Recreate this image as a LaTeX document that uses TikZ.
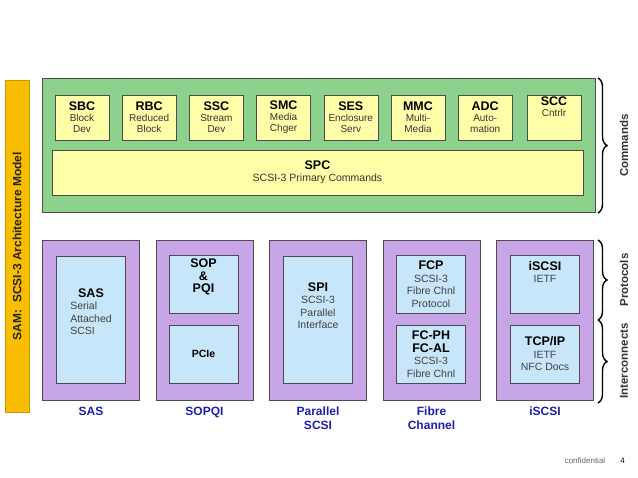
\documentclass[tikz,border=0pt]{standalone}
\usepackage{fontspec}
\setmainfont{Liberation Sans}
\usetikzlibrary{positioning,decorations.pathreplacing}
\definecolor{cmdgreen}{RGB}{140,210,140}
\definecolor{cmdyellow}{RGB}{255,255,170}
\definecolor{busviolet}{RGB}{200,165,230}
\definecolor{protblue}{RGB}{200,230,250}
\definecolor{samorange}{RGB}{250,190,0}
\definecolor{labblue}{RGB}{30,30,170}

\tikzset{
  box/.style={draw=black!70, line width=0.6pt, inner sep=0pt, align=center},
  cmd/.style={box, fill=cmdyellow, minimum width=54pt, minimum height=45pt, font=\fontsize{10}{11}\selectfont, text=black!80},
  bus/.style={box, fill=busviolet, minimum width=97pt, minimum height=160pt},
  prot/.style={box, fill=protblue, minimum width=69pt, font=\fontsize{10.5}{12.5}\selectfont, text=black!75},
  buslabel/.style={align=center, text=labblue, font=\bfseries\fontsize{12}{14}\selectfont},
  brace/.style={decorate, decoration={brace, amplitude=9pt}, line width=1.4pt},
  bracelabel/.style={rotate=90, font=\bfseries\fontsize{11.5}{12}\selectfont, text=black!80}
}
\newcommand{\hd}[1]{{\bfseries\fontsize{12.5}{13.5}\selectfont\color{black} #1}}

\begin{document}
\begin{tikzpicture}[x=1pt, y=-1pt]
\useasboundingbox (0,0) rectangle (638,478);

% architecture model bar
\node [box, fill=samorange, minimum width=24pt, minimum height=332pt, draw=samorange!80!black] (sam) at (17,246) {};
\node [rotate=90, font=\bfseries\fontsize{12}{13}\selectfont, text=black!85] at (sam.center) {SAM:\ \ SCSI-3 Architecture Model};

% command sets
\node [box, fill=cmdgreen, minimum width=553pt, minimum height=134pt] (cmdarea) at (318.5,145) {};
\foreach \n/\t/\s [count=\i from 0] in {SBC/Block/Dev, RBC/Reduced/Block, SSC/Stream/Dev, SMC/Media/Chger, SES/Enclosure/Serv, MMC/Multi-/Media, ADC/Auto-/mation}
  \node [cmd] (cmd-\n) at (82+\i*67.2,117.5) {\hd{\n}\\\t\\\s};
\node [cmd] (cmd-SCC) at (554,117.5) {};
\node [align=center, font=\fontsize{10}{11}\selectfont, text=black!80, below=2pt of cmd-SCC.north, inner sep=0pt] {\hd{SCC}\\Cntrlr};
\node [cmd, minimum width=531pt, minimum height=45pt, font=\fontsize{10.5}{12}\selectfont] (spc) at (317.5,172.5) {\hd{SPC}\\SCSI-3 Primary Commands};

% transports
\foreach \n [count=\i from 0] in {sas,sopqi,spi,fc,iscsi}
  \node [bus] (bus-\n) at (91+\i*113.5,320) {};

\node [prot, minimum height=127pt] (sas) at (bus-sas) {\hd{SAS}\\[3pt]\begin{tabular}{@{}l@{}}Serial\\Attached\\SCSI\end{tabular}\\[12pt]};
\node [prot, minimum height=127pt] (spi) at (bus-spi) {\hd{SPI}\\SCSI-3\\Parallel\\Interface\\[16pt]};
\node [prot, minimum height=58pt] (sop) at (203.5,284) {\hd{SOP}\\\hd{\&}\\\hd{PQI}\\[4pt]};
\node [prot, minimum height=58pt] (pcie) at (203.5,354) {\textbf{\color{black}PCIe}};
\node [prot, minimum height=58pt] (fcp) at (431,284) {\hd{FCP}\\SCSI-3\\Fibre Chnl\\Protocol};
\node [prot, minimum height=58pt] (fcph) at (431,354) {\hd{FC-PH}\\\hd{FC-AL}\\SCSI-3\\Fibre Chnl};
\node [prot, minimum height=58pt] (iscsip) at (545,284) {\hd{iSCSI}\\IETF\\[12pt]};
\node [prot, minimum height=58pt] (tcpip) at (545,354) {\hd{TCP/IP}\\IETF\\NFC Docs};

\node [buslabel, below=3pt of bus-sas.south, anchor=north] {SAS};
\node [buslabel, below=3pt of bus-sopqi.south, anchor=north] {SOPQI};
\node [buslabel, below=3pt of bus-spi.south, anchor=north] {Parallel\\SCSI};
\node [buslabel, below=3pt of bus-fc.south, anchor=north] {Fibre\\Channel};
\node [buslabel, below=3pt of bus-iscsi.south, anchor=north] {iSCSI};

% layer braces
\coordinate (b1) at (598,78);
\coordinate (b2) at (598,213);
\coordinate (b3) at (598,240);
\coordinate (b4) at (598,320);
\coordinate (b5) at (598,403);
\draw [brace] (b1) -- (b2);
\draw [brace] (b3) -- (b4);
\draw [brace] (b4) -- (b5);
\node [bracelabel] at (624,145.5) {Commands};
\node [bracelabel] at (624,280) {Protocols};
\node [bracelabel] at (624,361) {Interconnects};

\node [font=\fontsize{8}{9}\selectfont, text=black!60] (conf) at (585,461) {confidential};
\node [font=\fontsize{8}{9}\selectfont, right=8pt of conf] {4};
\end{tikzpicture}
\end{document}
